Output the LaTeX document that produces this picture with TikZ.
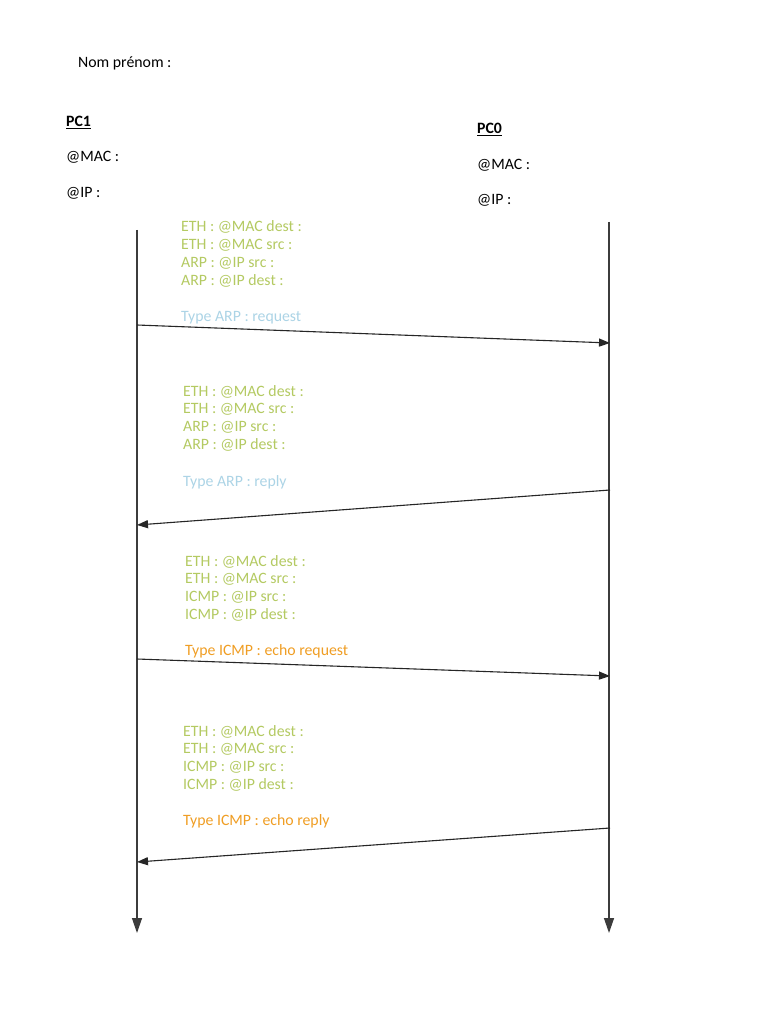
\documentclass[tikz,border=0pt]{standalone}
\usepackage{fontspec}
\setmainfont{Carlito}
\usetikzlibrary{arrows.meta}
\definecolor{fieldgreen}{RGB}{180,202,98}
\definecolor{arpblue}{RGB}{172,212,230}
\definecolor{icmporange}{RGB}{240,158,36}
\definecolor{lifegray}{RGB}{60,60,60}
\tikzset{
  lbl/.style={anchor=base west, inner sep=0pt, font=\fontsize{15.8}{18}\selectfont, text=black},
  fields/.style={lbl, text=fieldgreen},
  arptype/.style={lbl, text=arpblue},
  icmptype/.style={lbl, text=icmporange},
  lifeline/.style={draw=lifegray, line width=1.3pt, -{Triangle[length=15pt,width=10pt]}},
  msg/.style={draw=black!85, line width=1.1pt, -{Triangle[length=11pt,width=8pt]}}
}
\begin{document}
\begin{tikzpicture}[x=1pt,y=-1pt]
\useasboundingbox (0,0) rectangle (768,1024);
\fill[white] (0,0) rectangle (768,1024);
% header
\node[lbl] (nom) at (78,68) {Nom prénom :};
\node[lbl] (pc1) at (66,127) {\textbf{\underline{PC1}}};
\node[lbl] (mac1) at (66,162) {@MAC :};
\node[lbl] (ip1) at (66,198) {@IP :};
\node[lbl] (pc0) at (477,134) {\textbf{\underline{PC0}}};
\node[lbl] (mac0) at (477,170) {@MAC :};
\node[lbl] (ip0) at (477,205) {@IP :};
% lifelines
\coordinate (l1top) at (137,230);
\coordinate (l1bot) at (137,933);
\coordinate (l0top) at (609,222);
\coordinate (l0bot) at (609,933);
\draw[lifeline] (l1top) -- (l1bot);
\draw[lifeline] (l0top) -- (l0bot);
% message 1
\node[fields] (f1a) at (181,232) {ETH : @MAC dest :};
\node[fields] (f1b) at (181,249.7) {ETH : @MAC src :};
\node[fields] (f1c) at (181,267.5) {ARP : @IP src :};
\node[fields] (f1d) at (181,285.2) {ARP : @IP dest :};
\node[arptype] (t1) at (181,321) {Type ARP : request};
\coordinate (a1s) at (137,325);
\coordinate (a1e) at (610,343);
\draw[msg] (a1s) -- (a1e);
% message 2
\node[fields] (f2a) at (183,396) {ETH : @MAC dest :};
\node[fields] (f2b) at (183,413.7) {ETH : @MAC src :};
\node[fields] (f2c) at (183,431.5) {ARP : @IP src :};
\node[fields] (f2d) at (183,449.2) {ARP : @IP dest :};
\node[arptype] (t2) at (183,486) {Type ARP : reply};
\coordinate (a2s) at (610,490);
\coordinate (a2e) at (137,525);
\draw[msg] (a2s) -- (a2e);
% message 3
\node[fields] (f3a) at (185,566) {ETH : @MAC dest :};
\node[fields] (f3b) at (185,583.7) {ETH : @MAC src :};
\node[fields] (f3c) at (185,601.5) {ICMP : @IP src :};
\node[fields] (f3d) at (185,619.2) {ICMP : @IP dest :};
\node[icmptype] (t3) at (185,655) {Type ICMP : echo request};
\coordinate (a3s) at (137,659);
\coordinate (a3e) at (610,676);
\draw[msg] (a3s) -- (a3e);
% message 4
\node[fields] (f4a) at (183,736) {ETH : @MAC dest :};
\node[fields] (f4b) at (183,753.7) {ETH : @MAC src :};
\node[fields] (f4c) at (183,771.5) {ICMP : @IP src :};
\node[fields] (f4d) at (183,789.2) {ICMP : @IP dest :};
\node[icmptype] (t4) at (183,825) {Type ICMP : echo reply};
\coordinate (a4s) at (610,828);
\coordinate (a4e) at (137,862);
\draw[msg] (a4s) -- (a4e);
\end{tikzpicture}
\end{document}
